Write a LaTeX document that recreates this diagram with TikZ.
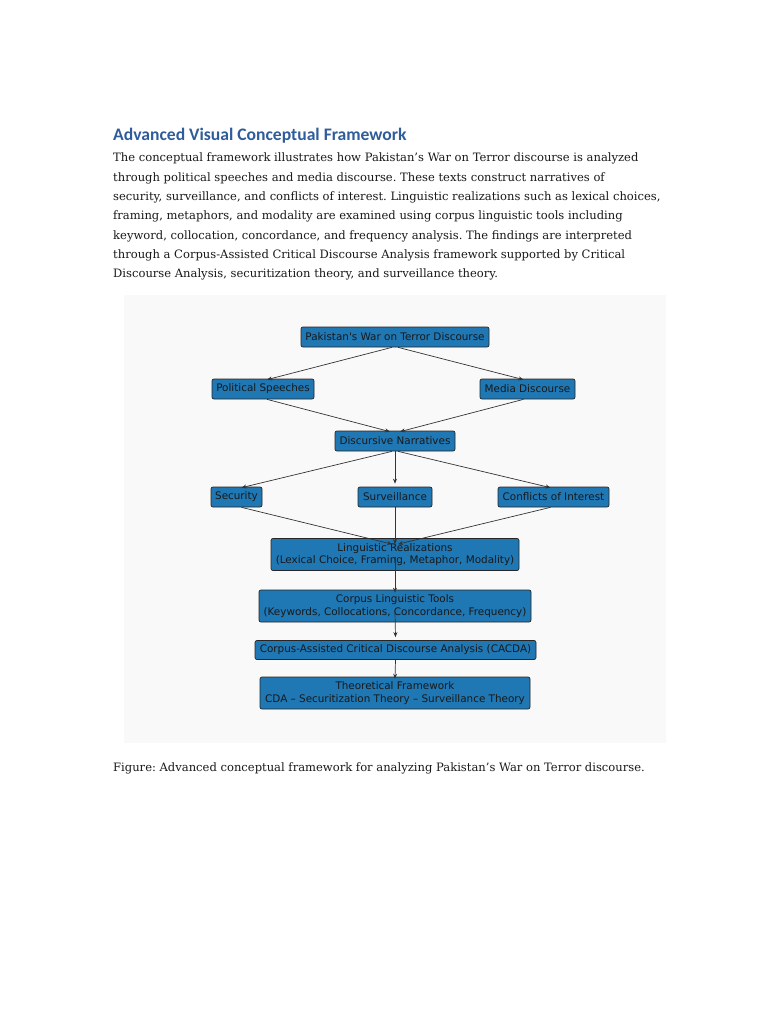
\documentclass[tikz,border=0pt]{standalone}
\usepackage{fontspec}
\setmainfont{DejaVu Serif}
\newfontfamily\boxfont{DejaVu Sans}
\newfontfamily\headfont{Carlito}
\usetikzlibrary{arrows.meta}
\definecolor{mplblue}{HTML}{1F77B4}
\definecolor{headblue}{HTML}{2F5C9A}
\definecolor{figbg}{HTML}{F9F9F9}
\definecolor{bodytext}{HTML}{1A1A1A}
\frenchspacing
\begin{document}
\begin{tikzpicture}[x=1pt,y=-1pt,
  box/.style={draw=black!85, line width=0.7pt, fill=mplblue, rounded corners=2pt,
    font=\boxfont\fontsize{10.4}{12.5}\selectfont, text=black!90, inner sep=0pt, align=center},
  arr/.style={-{Stealth[length=5pt,width=4pt]}, line width=0.7pt, draw=black!80},
  bodyline/.style={anchor=base west, inner sep=0pt, font=\fontsize{11.55}{13}\selectfont, text=bodytext}]
\useasboundingbox[fill=white] (0,0) rectangle (768,1024);
\fill[figbg] (124,295) rectangle (666,743);

% heading and body
\node[anchor=base west, inner sep=0pt, font=\headfont\bfseries\fontsize{17.6}{20}\selectfont, text=headblue] (title) at (113,141) {Advanced Visual Conceptual Framework};
\node[bodyline] (l1) at (113,162) {The conceptual framework illustrates how Pakistan's War on Terror discourse is analyzed};
\node[bodyline] (l2) at (113,181.3) {through political speeches and media discourse. These texts construct narratives of};
\node[bodyline] (l3) at (113,200.6) {security, surveillance, and conflicts of interest. Linguistic realizations such as lexical choices,};
\node[bodyline] (l4) at (113,219.9) {framing, metaphors, and modality are examined using corpus linguistic tools including};
\node[bodyline] (l5) at (113,239.2) {keyword, collocation, concordance, and frequency analysis. The findings are interpreted};
\node[bodyline] (l6) at (113,258.5) {through a Corpus-Assisted Critical Discourse Analysis framework supported by Critical};
\node[bodyline] (l7) at (113,277.8) {Discourse Analysis, securitization theory, and surveillance theory.};
\node[bodyline] (cap) at (113,771) {Figure: Advanced conceptual framework for analyzing Pakistan's War on Terror discourse.};

% diagram nodes
\node[box, minimum width=188, minimum height=20] (pw) at (395,337) {Pakistan's War on Terror Discourse};
\node[box, minimum width=102, minimum height=20] (ps) at (263,389) {Political Speeches};
\node[box, minimum width=95, minimum height=20] (md) at (527.5,389) {Media Discourse};
\node[box, minimum width=120, minimum height=20] (dn) at (395,441) {Discursive Narratives};
\node[box, minimum width=51, minimum height=20] (sec) at (236.5,497) {Security};
\node[box, minimum width=74, minimum height=20] (sv) at (395,497) {Surveillance};
\node[box, minimum width=111, minimum height=20] (coi) at (553.5,497) {Conflicts of Interest};
\node[box, minimum width=248, minimum height=32] (lr) at (395,554.5) {Linguistic Realizations\\(Lexical Choice, Framing, Metaphor, Modality)};
\node[box, minimum width=272, minimum height=32] (clt) at (395,606) {Corpus Linguistic Tools\\(Keywords, Collocations, Concordance, Frequency)};
\node[box, minimum width=281, minimum height=19] (cacda) at (395.5,650) {Corpus-Assisted Critical Discourse Analysis (CACDA)};
\node[box, minimum width=270, minimum height=32] (theo) at (395,693) {Theoretical Framework\\CDA – Securitization Theory – Surveillance Theory};

% connectors
\draw[arr] ([xshift=-3pt]pw.south) -- ([xshift=4pt,yshift=-1pt]ps.north);
\draw[arr] ([xshift=3pt]pw.south) -- ([xshift=-4pt,yshift=-1pt]md.north);
\draw[arr] ([xshift=4pt]ps.south) -- ([xshift=-5pt,yshift=-1pt]dn.north);
\draw[arr] ([xshift=-4pt]md.south) -- ([xshift=5pt,yshift=-1pt]dn.north);
\draw[arr] ([xshift=-3pt]dn.south) -- ([xshift=5pt,yshift=-1pt]sec.north);
\draw[arr] (dn.south) -- ([yshift=3pt]sv.north);
\draw[arr] ([xshift=3pt]dn.south) -- ([xshift=-3pt,yshift=-1pt]coi.north);
\draw[arr] ([xshift=5pt]sec.south) -- ([xshift=-3pt,yshift=-6pt]lr.north);
\draw[arr] (sv.south) -- ([yshift=-6pt]lr.north);
\draw[arr] ([xshift=-3pt]coi.south) -- ([xshift=3pt,yshift=-6pt]lr.north);
\draw[arr] ([yshift=-2pt]lr.center) -- ([yshift=-3pt]clt.north);
\draw[arr] ([yshift=-6pt]clt.center) -- ([yshift=3pt]cacda.north);
\draw[arr] (cacda.south) -- ([yshift=-2pt]theo.north);
\end{tikzpicture}
\end{document}
